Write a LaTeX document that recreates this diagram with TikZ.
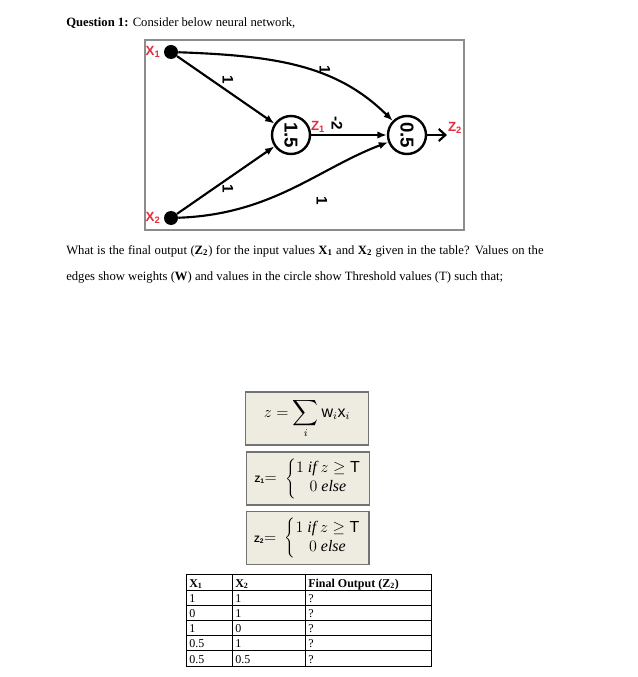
\documentclass[tikz,border=0pt]{standalone}
\usepackage{fontspec}
\usepackage{graphicx}
\setmainfont{Liberation Serif}
\setsansfont{Liberation Sans}
\usetikzlibrary{arrows.meta}
\definecolor{xred}{RGB}{225,45,60}
\definecolor{boxfill}{RGB}{238,236,225}
\newcommand{\bigsumop}{\mathop{\vcenter{\hbox{\scalebox{1.35}{$\displaystyle\sum$}}}}\limits}
\begin{document}
\begin{tikzpicture}[x=0.75pt,y=-0.75pt,
  neur/.style={circle,draw,line width=1.8pt,minimum size=28.5pt,inner sep=0pt,rotate=-90,
    font=\sffamily\bfseries\fontsize{14}{14}\selectfont},
  dot/.style={circle,fill,inner sep=0pt,minimum size=10.5pt},
  edge/.style={line width=1.6pt,-{Latex[length=7pt,width=5.5pt]}},
  wlab/.style={font=\sffamily\bfseries\fontsize{11.5}{11.5}\selectfont,rotate=-90,inner sep=0pt},
  rlab/.style={text=xred,font=\sffamily\bfseries\fontsize{10}{10}\selectfont,inner sep=0pt},
  fbox/.style={draw=black!55,line width=1pt,fill=boxfill,minimum width=92pt,minimum height=39.75pt,inner sep=0pt,font=\fontsize{12}{14}\selectfont},
  tcell/.style={anchor=base west,inner sep=0pt,font=\fontsize{9}{10}\selectfont},
  tline/.style={line width=0.6pt},
]
\useasboundingbox (0,0) rectangle (637,677);
% heading
\node[anchor=base west,inner sep=0pt,font=\fontsize{9.5}{11}\selectfont] (q) at (66,27)
  {\textbf{Question 1:} Consider below neural network,};
% network frame
\draw[draw=black!45,line width=1.2pt] (145,40) rectangle (464,230);
\node[dot] (x1) at (171,52) {};
\node[dot] (x2) at (171,218) {};
\node[neur] (h) at (291,135) {1.5};
\node[neur] (o) at (407,135) {0.5};
\coordinate (z2end) at (447,135);
\draw[edge] (x1) -- (h);
\draw[edge] (x2) -- (h);
\draw[edge] (h) -- (o);
\draw[edge] (x1) to[out=-2,in=147] (o);
\draw[edge] (x2) to[out=2,in=213] (o);
\draw[line width=1.6pt,-{Straight Barb[length=5pt,width=9pt]}] (o) -- (z2end);
\node[wlab] (w1) at (228,80) {1};
\node[wlab] (w2) at (325,70) {1};
\node[wlab] (w3) at (337,123) {-2};
\node[wlab] (w4) at (228,189) {1};
\node[wlab] (w5) at (322,201) {1};
\node[rlab] (lx1) at (153,52) {X\textsubscript{1}};
\node[rlab] (lx2) at (153,218) {X\textsubscript{2}};
\node[rlab] (lz1) at (318,127) {Z\textsubscript{1}};
\node[rlab] (lz2) at (455,128) {Z\textsubscript{2}};
% paragraph
\node[anchor=north west,inner sep=0pt,text width=358pt,align=justify,font=\fontsize{9.5}{19.5}\selectfont] (p) at (66,245)
  {What is the final output (\textbf{Z\textsubscript{2}}) for the input values \textbf{X\textsubscript{1}} and \textbf{X\textsubscript{2}} given in the table? Values on the\linebreak
   edges show weights (\textbf{W}) and values in the circle show Threshold values (T) such that;};
% formula boxes
\node[fbox] (f1) at (307,418.5) {$\displaystyle z = \bigsumop_{i} \mathsf{w}_i\mathsf{x}_i$\hspace{16pt}};
\node[fbox] (f2) at (308,478.5) {{\sffamily\bfseries\fontsize{7}{7}\selectfont Z\textsubscript{1}}$=\ \left\{\begin{array}{@{}c@{}}1\ \mathit{if}\ z\geq \mathsf{T}\\ 0\ \mathit{else}\end{array}\right.$};
\node[fbox] (f3) at (307.5,538) {{\sffamily\bfseries\fontsize{7}{7}\selectfont Z\textsubscript{2}}$=\ \left\{\begin{array}{@{}c@{}}1\ \mathit{if}\ z\geq \mathsf{T}\\ 0\ \mathit{else}\end{array}\right.$};
% table
\draw[tline] (186,574) rectangle (431,666);
\draw[tline] (232,574) -- (232,666) (305,574) -- (305,666);
\foreach \yy in {590,605,620,635,650} \draw[tline] (186,\yy) -- (431,\yy);
\node[tcell] (h1) at (189,587) {\textbf{X\textsubscript{1}}};
\node[tcell] (h2) at (235,587) {\textbf{X\textsubscript{2}}};
\node[tcell] (h3) at (308,587) {\textbf{Final Output (Z\textsubscript{2})}};
\node[tcell] (a1) at (189,602) {1};
\node[tcell] (b1) at (235,602) {1};
\node[tcell] (c1) at (308,602) {?};
\node[tcell] (a2) at (189,617) {0};
\node[tcell] (b2) at (235,617) {1};
\node[tcell] (c2) at (308,617) {?};
\node[tcell] (a3) at (189,632) {1};
\node[tcell] (b3) at (235,632) {0};
\node[tcell] (c3) at (308,632) {?};
\node[tcell] (a4) at (189,647) {0.5};
\node[tcell] (b4) at (235,647) {1};
\node[tcell] (c4) at (308,647) {?};
\node[tcell] (a5) at (189,663) {0.5};
\node[tcell] (b5) at (235,663) {0.5};
\node[tcell] (c5) at (308,663) {?};
\end{tikzpicture}
\end{document}
